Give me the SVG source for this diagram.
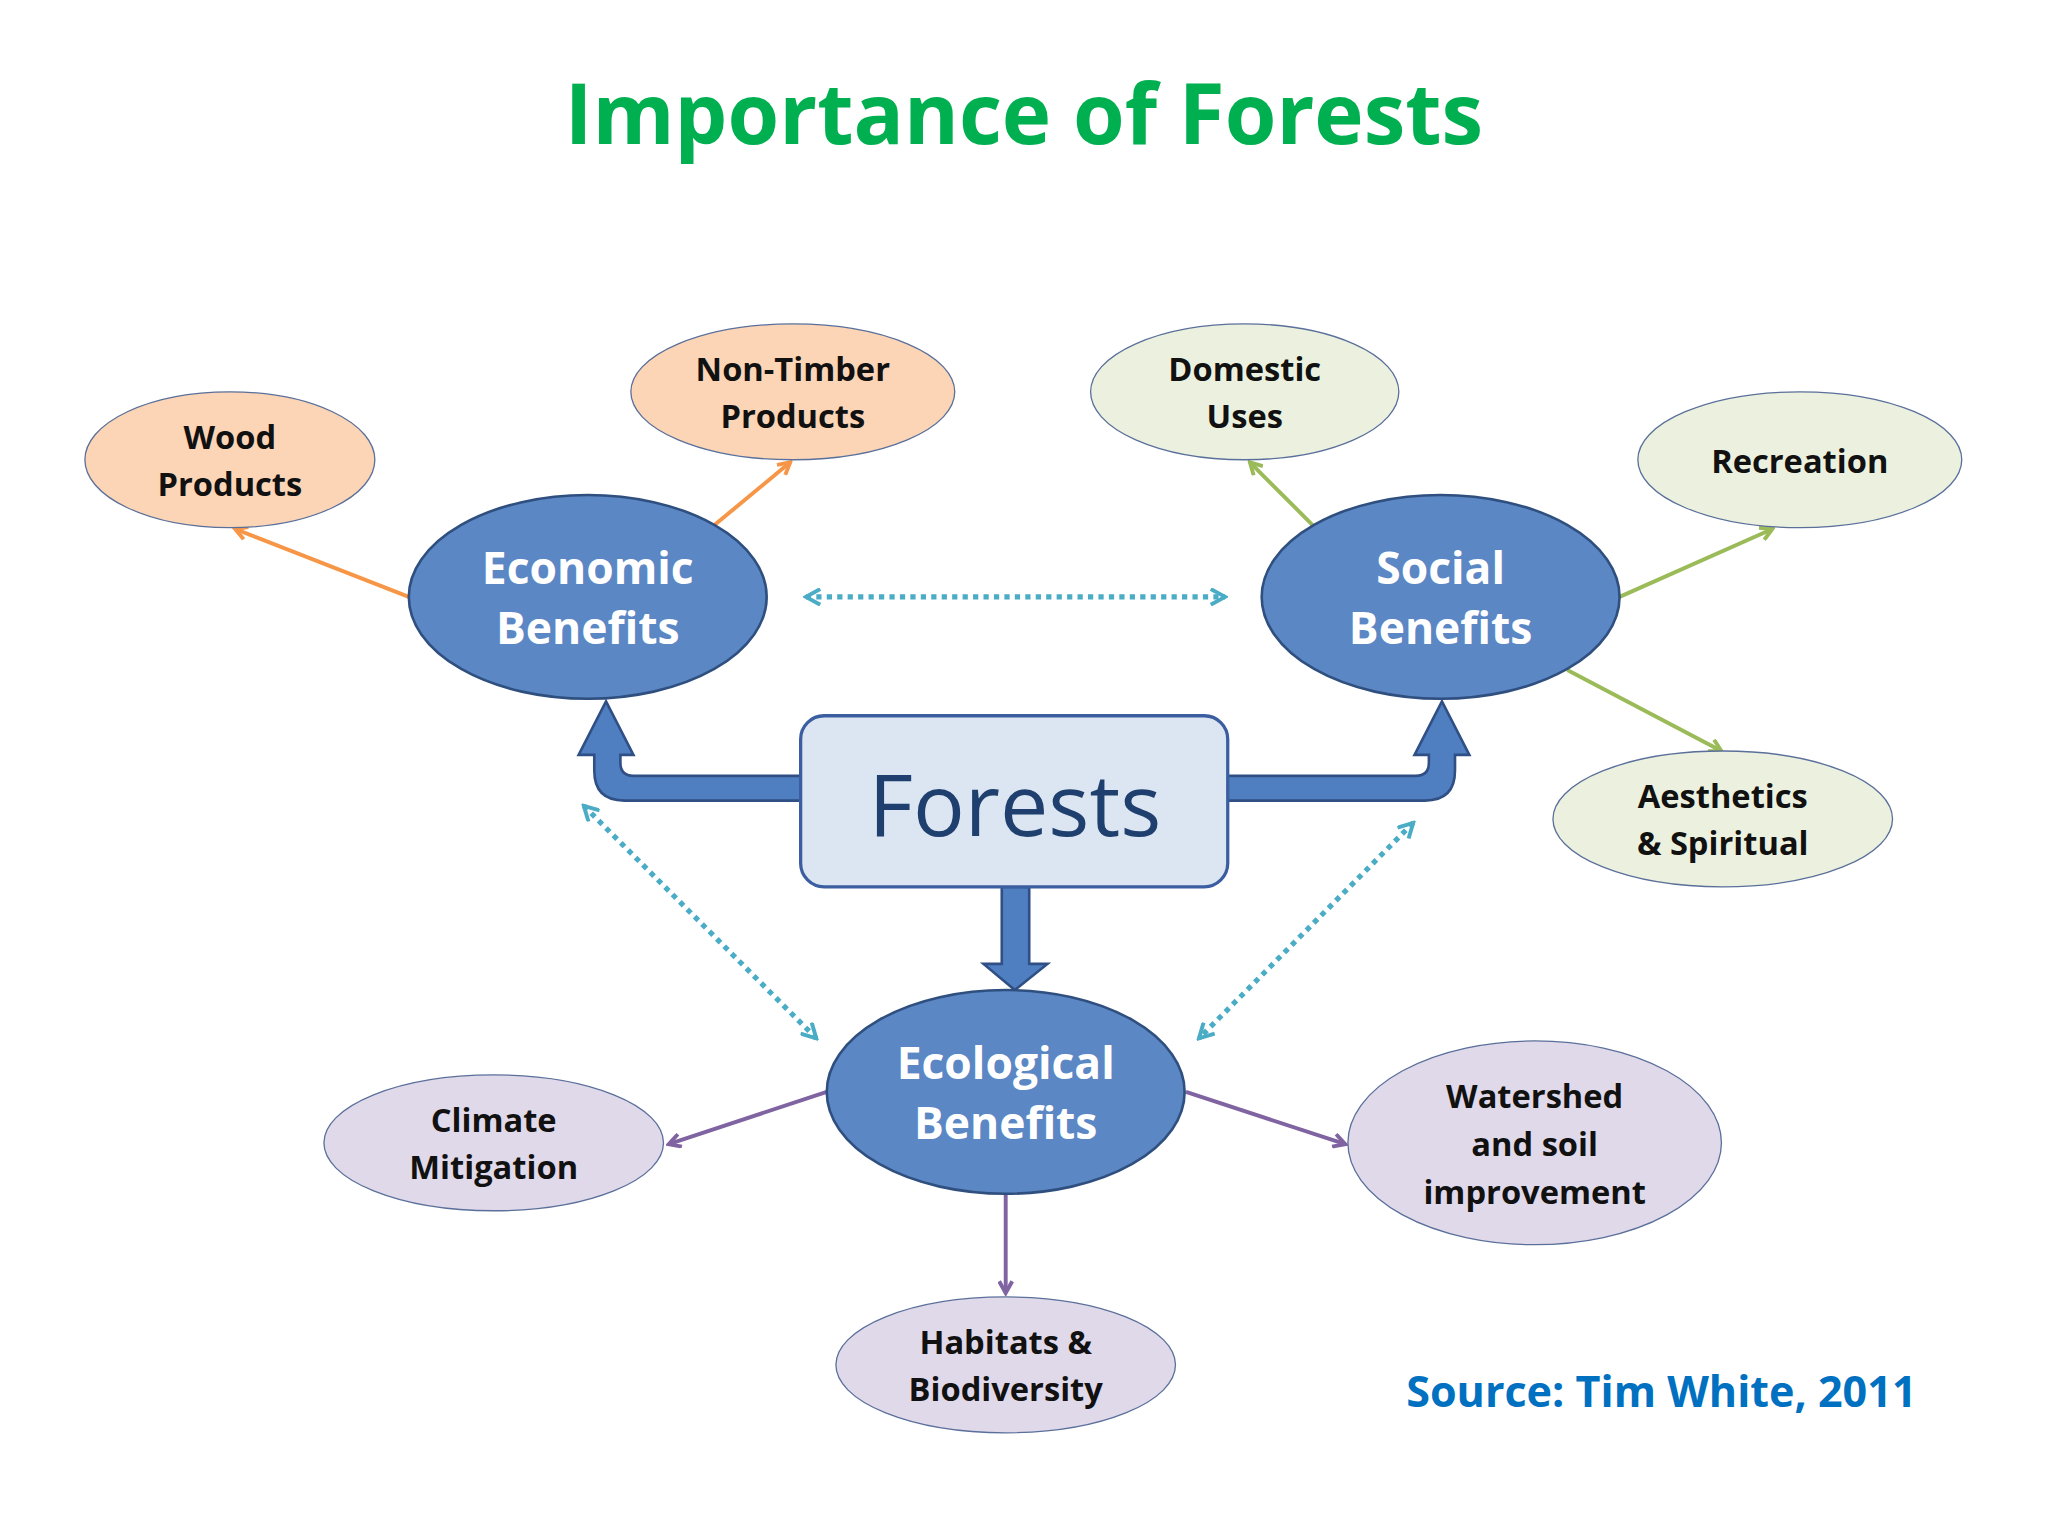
<svg xmlns="http://www.w3.org/2000/svg" width="2048" height="1536" viewBox="0 0 2048 1536">
<defs>
<style>
text{font-family:"Open Sans","Liberation Sans",sans-serif;font-weight:bold;text-anchor:middle}
.s{font-size:25px;fill:#111}
.b{font-size:34px;fill:#fff}
.eco{fill:#fbd5b5;stroke:#5a6f9a;stroke-width:1}
.soc{fill:#ebf1de;stroke:#5a6f9a;stroke-width:1}
.ecl{fill:#e0d9ea;stroke:#5a6f9a;stroke-width:1}
.big{fill:#5b87c5;stroke:#2f4f7f;stroke-width:2}
.blk{fill:#4f7fc0;stroke:#2f4f85;stroke-width:2}
</style>
<marker id="ao" markerWidth="12" markerHeight="12" refX="10" refY="6" orient="auto" markerUnits="userSpaceOnUse"><path d="M1,1 L10,6 L1,11" fill="none" stroke="#f79646" stroke-width="3"/></marker>
<marker id="ag" markerWidth="12" markerHeight="12" refX="10" refY="6" orient="auto" markerUnits="userSpaceOnUse"><path d="M1,1 L10,6 L1,11" fill="none" stroke="#9bbb59" stroke-width="3"/></marker>
<marker id="ap" markerWidth="12" markerHeight="12" refX="10" refY="6" orient="auto" markerUnits="userSpaceOnUse"><path d="M1,1 L10,6 L1,11" fill="none" stroke="#8064a2" stroke-width="3"/></marker>
<marker id="at" markerWidth="14" markerHeight="14" refX="12" refY="7" orient="auto-start-reverse" markerUnits="userSpaceOnUse"><path d="M1,1 L12,7 L1,13" fill="none" stroke="#4bacc6" stroke-width="3"/></marker>
</defs>
<rect width="2048" height="1536" fill="#fff"/>
<g transform="scale(1.3061)">
<text x="784" y="110" style="font-size:64px;fill:#00b050">Importance of Forests</text>
<g id="connectors" fill="none" stroke-width="3">
<line x1="313" y1="457" x2="180" y2="405" stroke="#f79646" marker-end="url(#ao)"/>
<line x1="547" y1="402" x2="605" y2="354" stroke="#f79646" marker-end="url(#ao)"/>
<line x1="1005" y1="402" x2="957" y2="354" stroke="#9bbb59" marker-end="url(#ag)"/>
<line x1="1240" y1="457" x2="1357" y2="405" stroke="#9bbb59" marker-end="url(#ag)"/>
<line x1="1200" y1="513" x2="1318" y2="575" stroke="#9bbb59" marker-end="url(#ag)"/>
<line x1="633" y1="836" x2="512" y2="876" stroke="#8064a2" marker-end="url(#ap)"/>
<line x1="908" y1="836" x2="1030" y2="876" stroke="#8064a2" marker-end="url(#ap)"/>
<line x1="770" y1="914" x2="770" y2="990" stroke="#8064a2" marker-end="url(#ap)"/>
<g stroke="#4bacc6" stroke-width="4" stroke-dasharray="4 4">
<line x1="617" y1="457" x2="938" y2="457" marker-start="url(#at)" marker-end="url(#at)"/>
<line x1="447" y1="617" x2="625" y2="795" marker-start="url(#at)" marker-end="url(#at)"/>
<line x1="1082" y1="630" x2="918" y2="795" marker-start="url(#at)" marker-end="url(#at)"/>
</g>
<path class="blk" d="M613,594 L485,594 Q475,594 475,584 L475,578 L485,578 L464,537 L443,578 L455,578 L455,590 Q455,613 478,613 L613,613 Z"/>
<path class="blk" d="M940,594 L1084,594 Q1094,594 1094,584 L1094,578 L1083,578 L1104,537 L1125,578 L1114,578 L1114,590 Q1114,613 1091,613 L940,613 Z"/>
<path class="blk" d="M767,679 L788,679 L788,738 L802,738 L777,758 L753,738 L767,738 Z"/>
</g>
<g id="forests"><rect x="613" y="548" width="327" height="131" rx="18" fill="#dce6f2" stroke="#3b5ea0" stroke-width="2.5"/><text x="777" y="640" style="font-size:66px;font-weight:normal;fill:#1f3f6f">Forests</text></g>
<g id="economic"><ellipse cx="450" cy="457" rx="137" ry="78" class="big"/><text x="450" y="447" class="b">Economic</text><text x="450" y="493" class="b">Benefits</text></g>
<g id="social"><ellipse cx="1103" cy="457" rx="137" ry="78" class="big"/><text x="1103" y="447" class="b">Social</text><text x="1103" y="493" class="b">Benefits</text></g>
<g id="ecological"><ellipse cx="770" cy="836" rx="137" ry="78" class="big"/><text x="770" y="826" class="b">Ecological</text><text x="770" y="872" class="b">Benefits</text></g>
<g id="wood"><ellipse cx="176" cy="352" rx="111" ry="52" class="eco"/><text x="176" y="344" class="s">Wood</text><text x="176" y="380" class="s">Products</text></g>
<g id="nontimber"><ellipse cx="607" cy="300" rx="124" ry="52" class="eco"/><text x="607" y="292" class="s">Non-Timber</text><text x="607" y="328" class="s">Products</text></g>
<g id="domestic"><ellipse cx="953" cy="300" rx="118" ry="52" class="soc"/><text x="953" y="292" class="s">Domestic</text><text x="953" y="328" class="s">Uses</text></g>
<g id="recreation"><ellipse cx="1378" cy="352" rx="124" ry="52" class="soc"/><text x="1378" y="362" class="s">Recreation</text></g>
<g id="aesthetics"><ellipse cx="1319" cy="627" rx="130" ry="52" class="soc"/><text x="1319" y="619" class="s">Aesthetics</text><text x="1319" y="655" class="s">&amp; Spiritual</text></g>
<g id="climate"><ellipse cx="378" cy="875" rx="130" ry="52" class="ecl"/><text x="378" y="867" class="s">Climate</text><text x="378" y="903" class="s">Mitigation</text></g>
<g id="watershed"><ellipse cx="1175" cy="875" rx="143" ry="78" class="ecl"/><text x="1175" y="848" class="s">Watershed</text><text x="1175" y="885" class="s">and soil</text><text x="1175" y="922" class="s">improvement</text></g>
<g id="habitats"><ellipse cx="770" cy="1045" rx="130" ry="52" class="ecl"/><text x="770" y="1037" class="s">Habitats &amp;</text><text x="770" y="1073" class="s">Biodiversity</text></g>
<text x="1272" y="1077" style="font-size:33px;fill:#0070c0">Source: Tim White, 2011</text>
</g>
</svg>
